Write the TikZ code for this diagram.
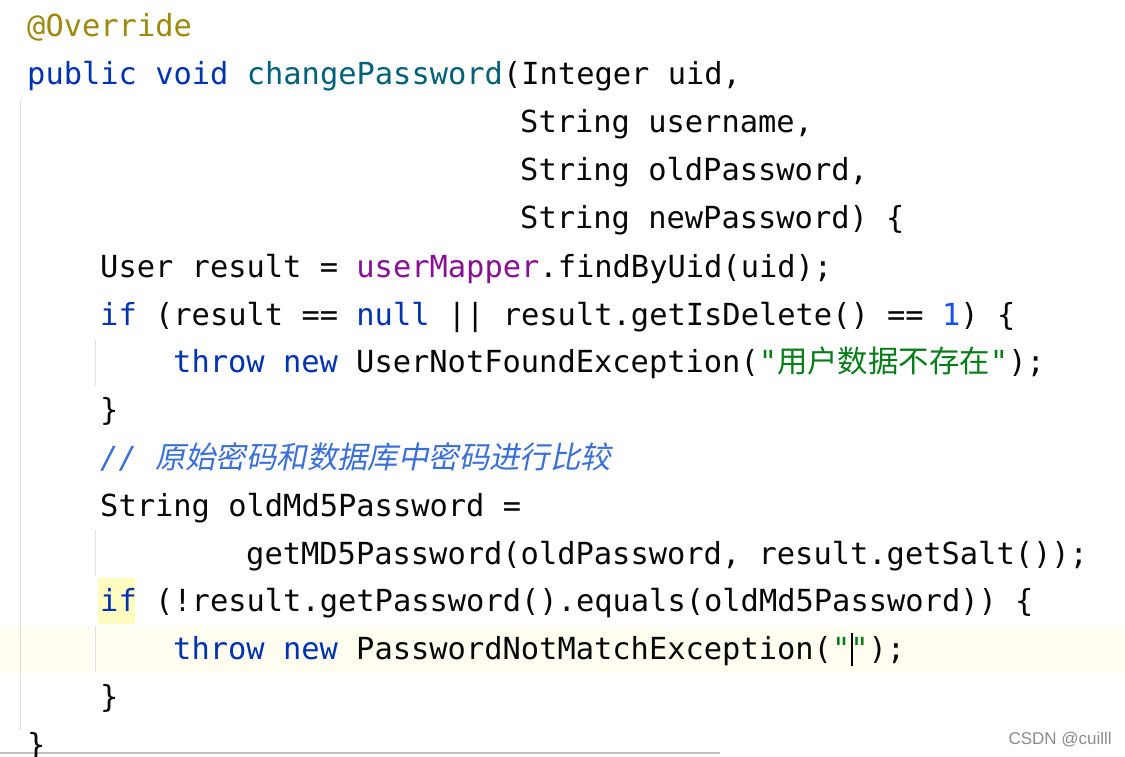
\documentclass[tikz,border=0pt]{standalone}
\usepackage{fontspec}
\newfontfamily\code{DejaVu Sans Mono}
\newfontfamily\cjk{Noto Sans CJK SC}
\newfontfamily\cjkit[FakeSlant=0.2]{Noto Sans CJK SC}
\newfontfamily\wm{Liberation Sans}
\definecolor{anno}{HTML}{9E880D}
\definecolor{kw}{HTML}{0033B3}
\definecolor{fn}{HTML}{00627A}
\definecolor{fld}{HTML}{871094}
\definecolor{num}{HTML}{1750EB}
\definecolor{str}{HTML}{067D17}
\definecolor{cmt}{HTML}{3A6FD8}
\definecolor{txt}{HTML}{080808}
\newcommand{\K}[1]{\textcolor{kw}{#1}}
\tikzset{ln/.style={anchor=base west,inner sep=0pt,font=\code\fontsize{30.4}{36}\selectfont,text=txt},
guide/.style={draw=black!12,line width=1pt}}
\begin{document}
\begin{tikzpicture}[x=1pt,y=-1pt]
\fill[white] (0,0) rectangle (1125,757);
\useasboundingbox (0,0) rectangle (1125,757);
% current line highlight
\fill[yellow!6] (0,626) rectangle (1125,673);
\fill[yellow!25] (98,578) rectangle (135,624);
% indent guides
\draw[guide] (20,100) -- (20,730);
\draw[guide] (95,340) -- (95,386);
\draw[guide] (95,530) -- (95,576);
\draw[guide] (95,626) -- (95,672);
\draw[black!25,line width=2pt] (0,753) -- (720,753);
\def\c#1{\fpeval{27+18.27*#1}}
\node[ln] (l0) at (27,37) {\textcolor{anno}{@Override}};
\node[ln] (l1) at (27,85) {\K{public void }\textcolor{fn}{changePassword}(Integer uid,};
\node[ln] (l2) at (520,133) {String username,};
\node[ln] (l3) at (520,181) {String oldPassword,};
\node[ln] (l4) at (520,229) {String newPassword) \{};
\node[ln] (l5) at (100,277) {User result = \textcolor{fld}{userMapper}.findByUid(uid);};
\node[ln] (l6) at (100,325) {\K{if} (result == \K{null} || result.getIsDelete() == \textcolor{num}{1}) \{};
\node[ln] (l7) at (173,372) {\K{throw new} UserNotFoundException(\textcolor{str}{"{\cjk 用户数据不存在}"});};
\node[ln] (l8) at (100,420) {\}};
\node[ln] (l9) at (100,468) {\textcolor{cmt}{\itshape // {\cjkit 原始密码和数据库中密码进行比较}}};
\node[ln] (l10) at (100,516) {String oldMd5Password =};
\node[ln] (l11) at (246,564) {getMD5Password(oldPassword, result.getSalt());};
\node[ln] (l12) at (100,611) {\K{if} (!result.getPassword().equals(oldMd5Password)) \{};
\node[ln] (l13) at (173,659) {\K{throw new} PasswordNotMatchException(\textcolor{str}{"\rlap{\hspace{1pt}\textcolor{black}{\rule[-0.22em]{1.8pt}{1.08em}}}"});};
\node[ln] (l14) at (100,707) {\}};
\node[ln] (l15) at (27,755) {\}};
\node[anchor=east,inner sep=0pt,font=\wm\fontsize{17}{20}\selectfont,text=black!45] (wm) at (1112,740) {CSDN @cuilll};
\end{tikzpicture}
\end{document}
